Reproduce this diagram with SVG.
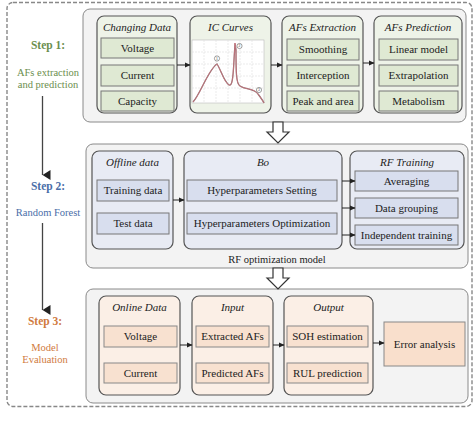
<svg xmlns="http://www.w3.org/2000/svg" width="474" height="423" viewBox="0 0 474 423" font-family="'Liberation Serif', 'Times New Roman', serif">
<defs>
<marker id="ah" markerWidth="6" markerHeight="6" refX="5" refY="3" orient="auto" markerUnits="userSpaceOnUse"><path d="M0,0.5 L5.5,3 L0,5.5 Z" fill="#222"/></marker>
<marker id="big" markerWidth="10" markerHeight="10" refX="5" refY="8" orient="auto" markerUnits="userSpaceOnUse"><path d="M0,0 L10,0 L5,8 Z" fill="#222"/></marker>
<style>
text{font-family:'Liberation Serif','Times New Roman',serif;}
.panel{fill:#f3f3f3;stroke:#8a8a8a;stroke-width:1;}
.g{fill:#eef3e8;stroke:#555;stroke-width:1.2;}
.gs{fill:#dfe9d3;stroke:#777;stroke-width:1;}
.b{fill:#e8ebf4;stroke:#555;stroke-width:1.2;}
.bs{fill:#d8deee;stroke:#777;stroke-width:1;}
.o{fill:#fbefe6;stroke:#555;stroke-width:1.2;}
.os{fill:#f8e1d0;stroke:#888;stroke-width:1;}
.t{font-size:11px;text-anchor:middle;fill:#222;}
.ti{font-size:11px;font-style:italic;text-anchor:middle;fill:#222;}
.c{stroke:#222;stroke-width:1;fill:none;marker-end:url(#ah);}
.hollow{fill:#fff;stroke:#333;stroke-width:1.2;}
.grid{stroke:#ddd;stroke-width:0.6;stroke-dasharray:2,1;}
</style>
</defs>

<rect x="7" y="2.5" width="465" height="404" rx="6" fill="none" stroke="#888" stroke-width="1.4" stroke-dasharray="4,2"/>

<!-- step labels -->
<g id="step1-label">
<text x="48" y="49" font-size="11.5" font-weight="bold" text-anchor="middle" fill="#6b8e4e">Step 1:</text>
<text x="48" y="76" font-size="10.5" text-anchor="middle" fill="#6b8e4e">AFs extraction</text>
<text x="48" y="88" font-size="10.5" text-anchor="middle" fill="#6b8e4e">and prediction</text>
</g>
<g id="step2-label">
<text x="48" y="190" font-size="11.5" font-weight="bold" text-anchor="middle" fill="#4a6ea8">Step 2:</text>
<text x="48" y="216" font-size="10.5" text-anchor="middle" fill="#4a6ea8">Random Forest</text>
</g>
<g id="step3-label">
<text x="45" y="325" font-size="11.5" font-weight="bold" text-anchor="middle" fill="#d07a3e">Step 3:</text>
<text x="45" y="351" font-size="10.5" text-anchor="middle" fill="#d07a3e">Model</text>
<text x="45" y="363" font-size="10.5" text-anchor="middle" fill="#d07a3e">Evaluation</text>
</g>

<!-- panels -->
<g id="panel1"><rect class="panel" x="83" y="9" width="383" height="113" rx="7"/></g>
<g id="panel2"><rect class="panel" x="86" y="144" width="382" height="124" rx="7"/>
<text x="277" y="263" font-size="10.5" text-anchor="middle" fill="#222">RF optimization model</text></g>
<g id="panel3"><rect class="panel" x="86" y="289" width="382" height="114" rx="7"/></g>

<!-- Step 1 nodes -->
<g id="changing-data">
<rect class="g" x="97" y="16" width="80" height="97" rx="7"/>
<text class="ti" x="137" y="31">Changing Data</text>
<rect class="gs" x="101" y="38" width="73" height="20"/><text class="t" x="137.5" y="52">Voltage</text>
<rect class="gs" x="101" y="65" width="73" height="21"/><text class="t" x="137.5" y="79">Current</text>
<rect class="gs" x="101" y="91" width="73" height="20"/><text class="t" x="137.5" y="105">Capacity</text>
</g>
<g id="ic-curves">
<rect class="g" x="190" y="16" width="81" height="97" rx="7"/>
<text class="ti" x="230.5" y="31">IC Curves</text>
<rect x="192" y="40" width="72" height="63" fill="#fff" stroke="#bbb" stroke-width="0.6"/>
<g class="grid">
<line x1="204" y1="40" x2="204" y2="103"/><line x1="216" y1="40" x2="216" y2="103"/><line x1="228" y1="40" x2="228" y2="103"/><line x1="240" y1="40" x2="240" y2="103"/><line x1="252" y1="40" x2="252" y2="103"/>
<line x1="192" y1="52" x2="264" y2="52"/><line x1="192" y1="64" x2="264" y2="64"/><line x1="192" y1="76" x2="264" y2="76"/><line x1="192" y1="88" x2="264" y2="88"/>
</g>
<path d="M193,102 C200,95 208,70 217,64 C221,70 224,82 229,85 C232,86 233,80 234,60 L235,43 L236,50 C236,70 236,84 240,86 C246,90 254,88 258,94 C261,98 263,101 264,103" fill="none" stroke="#8a6a6a" stroke-width="1.3"/>
<path d="M193,102 C200,95 208,70 217,64 C221,70 224,82 229,85 C232,86 233,80 234,60 L235,43 L236,50 C236,70 236,84 240,86 C246,90 254,88 258,94 C261,98 263,101 264,103" fill="none" stroke="#e07a8a" stroke-width="0.6"/>
<g fill="#fff" stroke="#444" stroke-width="0.5">
<circle cx="217" cy="58.5" r="2.6"/><circle cx="239.5" cy="46" r="2.6"/><circle cx="259" cy="90" r="2.6"/>
</g>
<g font-size="3.6" text-anchor="middle" fill="#222">
<text x="217" y="59.8">1</text><text x="239.5" y="47.3">2</text><text x="259" y="91.3">3</text>
</g>
</g>
<g id="afs-extraction">
<rect class="g" x="282" y="16" width="81" height="97" rx="7"/>
<text class="ti" x="322.5" y="31">AFs Extraction</text>
<rect class="gs" x="287" y="39" width="72" height="21"/><text class="t" x="323" y="53">Smoothing</text>
<rect class="gs" x="287" y="65" width="72" height="21"/><text class="t" x="323" y="79">Interception</text>
<rect class="gs" x="287" y="91" width="72" height="20"/><text class="t" x="323" y="105">Peak and area</text>
</g>
<g id="afs-prediction">
<rect class="g" x="374" y="16" width="88" height="97" rx="7"/>
<text class="ti" x="418" y="31">AFs Prediction</text>
<rect class="gs" x="379" y="39" width="79" height="21"/><text class="t" x="418.5" y="53">Linear model</text>
<rect class="gs" x="379" y="65" width="79" height="21"/><text class="t" x="418.5" y="79">Extrapolation</text>
<rect class="gs" x="379" y="91" width="79" height="20"/><text class="t" x="418.5" y="105">Metabolism</text>
</g>

<!-- Step 2 nodes -->
<g id="offline-data">
<rect class="b" x="92" y="151" width="81" height="98" rx="7"/>
<text class="ti" x="132.5" y="166">Offline data</text>
<rect class="bs" x="97" y="180" width="72" height="21"/><text class="t" x="133" y="194">Training data</text>
<rect class="bs" x="97" y="213" width="72" height="21"/><text class="t" x="133" y="227">Test data</text>
</g>
<g id="bo">
<rect class="b" x="184" y="151" width="158" height="98" rx="7"/>
<text class="ti" x="263" y="166">Bo</text>
<rect class="bs" x="187" y="180" width="150" height="21"/><text class="t" x="262" y="194">Hyperparameters Setting</text>
<rect class="bs" x="187" y="213" width="150" height="21"/><text class="t" x="262" y="227">Hyperparameters Optimization</text>
</g>
<g id="rf-training">
<rect class="b" x="350" y="151" width="114" height="98" rx="7"/>
<text class="ti" x="407" y="166">RF Training</text>
<rect class="bs" x="355" y="171" width="103" height="20"/><text class="t" x="406.5" y="185">Averaging</text>
<rect class="bs" x="355" y="198" width="103" height="20"/><text class="t" x="406.5" y="212">Data grouping</text>
<rect class="bs" x="355" y="225" width="103" height="20"/><text class="t" x="406.5" y="239">Independent training</text>
</g>

<!-- Step 3 nodes -->
<g id="online-data">
<rect class="o" x="99" y="296" width="81" height="99" rx="7"/>
<text class="ti" x="139.5" y="311">Online Data</text>
<rect class="os" x="104" y="326" width="73" height="21"/><text class="t" x="140.5" y="340">Voltage</text>
<rect class="os" x="104" y="363" width="73" height="20"/><text class="t" x="140.5" y="377">Current</text>
</g>
<g id="input">
<rect class="o" x="192" y="296" width="81" height="99" rx="7"/>
<text class="ti" x="232.5" y="311">Input</text>
<rect class="os" x="196" y="326" width="73" height="21"/><text class="t" x="232.5" y="340">Extracted AFs</text>
<rect class="os" x="196" y="363" width="73" height="20"/><text class="t" x="232.5" y="377">Predicted AFs</text>
</g>
<g id="output">
<rect class="o" x="284" y="296" width="89" height="99" rx="7"/>
<text class="ti" x="328.5" y="311">Output</text>
<rect class="os" x="287" y="326" width="81" height="21"/><text class="t" x="327.5" y="340">SOH estimation</text>
<rect class="os" x="287" y="363" width="81" height="20"/><text class="t" x="327.5" y="377">RUL prediction</text>
</g>
<g id="error-analysis">
<rect x="384" y="322" width="81" height="44" fill="#f9dfcc" stroke="#888" stroke-width="1"/>
<text class="t" x="424.5" y="348">Error analysis</text>
</g>

<!-- connectors -->
<g id="connectors">
<line class="c" x1="177" y1="65" x2="190" y2="65"/>
<line class="c" x1="271" y1="65" x2="282" y2="65"/>
<line class="c" x1="363" y1="63" x2="374" y2="63"/>
<line class="c" x1="173" y1="200" x2="184" y2="200"/>
<line class="c" x1="342" y1="181" x2="355" y2="181"/>
<line class="c" x1="342" y1="208" x2="355" y2="208"/>
<line class="c" x1="342" y1="235" x2="355" y2="235"/>
<line class="c" x1="180" y1="345" x2="192" y2="345"/>
<line class="c" x1="273" y1="345" x2="284" y2="345"/>
<line class="c" x1="373" y1="343" x2="384" y2="343"/>
<line x1="42.5" y1="96" x2="42.5" y2="175" stroke="#444" stroke-width="1.3" marker-end="url(#big)"/>
<line x1="42.5" y1="223" x2="42.5" y2="310" stroke="#444" stroke-width="1.3" marker-end="url(#big)"/>
<path class="hollow" d="M273,122 L283,122 L283,132 L289,132 L278,143 L267,132 L273,132 Z"/>
<path class="hollow" d="M273,268 L283,268 L283,278 L289,278 L278,289 L267,278 L273,278 Z"/>
</g>
</svg>
